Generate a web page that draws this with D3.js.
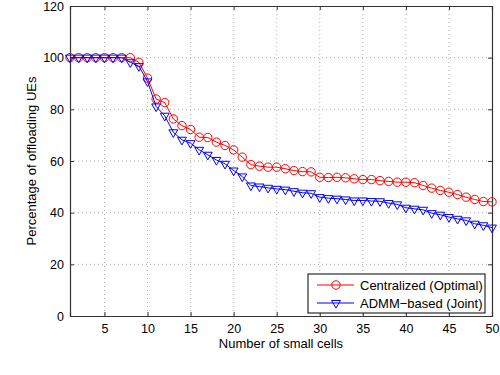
<!DOCTYPE html>
<html>
<head>
<meta charset="utf-8">
<script src="https://cdn.jsdelivr.net/npm/d3@7"></script>
<style>
  body { margin: 0; background: #fff; }
  text { font-family: "Liberation Sans", Arial, sans-serif; }
</style>
</head>
<body>
<div id="chart"></div>
<script>
// number of small cells 1..50
const cells = [1,2,3,4,5,6,7,8,9,10,11,12,13,14,15,16,17,18,19,20,21,22,23,24,25,
  26,27,28,29,30,31,32,33,34,35,36,37,38,39,40,41,42,43,44,45,46,47,48,49,50];

const centralized = [100,100,100,100,100,100,100,100,98.2,92.1,84.0,82.6,76.3,73.7,72.2,69.2,69.1,67.3,66.0,64.3,
  61.5,58.6,58.0,57.6,57.6,57.0,56.3,55.9,55.8,53.7,53.6,53.7,53.5,53.1,52.8,52.8,52.4,52.1,51.8,51.8,
  51.6,50.5,49.5,48.6,47.9,47.0,46.0,45.1,44.3,44.2];

const admm = [100,100,100,100,100,100,100,98.2,96.7,90.8,81.1,77.5,71.1,68.2,66.9,64.3,62.4,60.4,58.9,56.3,
  54.0,50.5,50.1,49.6,49.2,48.9,48.3,47.7,47.5,46.0,45.6,45.4,45.1,44.7,44.7,44.5,44.4,43.7,43.2,41.9,
  41.5,41.1,39.8,39.2,38.3,37.6,37.0,35.7,35.1,34.2];

const xTicks = [5,10,15,20,25,30,35,40,45,50];
const yTicks = [0,20,40,60,80,100,120];
const seriesNames = ["Centralized (Optimal)", "ADMM\u2212based (Joint)"];

const width = 500, height = 375;
const margin = {top: 6, right: 8, bottom: 59, left: 70};
const iw = width - margin.left - margin.right;
const ih = height - margin.top - margin.bottom;

const svg = d3.select("#chart").append("svg")
  .attr("width", width)
  .attr("height", height);

const g = svg.append("g").attr("transform", `translate(${margin.left},${margin.top})`);

const x = d3.scaleLinear().domain([1, 50]).range([0, iw]);
const y = d3.scaleLinear().domain([0, 120]).range([ih, 0]);

// dotted grid
g.append("g").selectAll("line")
  .data(xTicks.filter(d => d < 50))
  .join("line")
  .attr("x1", d => x(d)).attr("x2", d => x(d))
  .attr("y1", 0).attr("y2", ih)
  .attr("stroke", "#999").attr("stroke-width", 0.8)
  .attr("stroke-dasharray", "1,3");

g.append("g").selectAll("line")
  .data(yTicks.filter(d => d > 0 && d < 120))
  .join("line")
  .attr("x1", 0).attr("x2", iw)
  .attr("y1", d => y(d)).attr("y2", d => y(d))
  .attr("stroke", "#999").attr("stroke-width", 0.8)
  .attr("stroke-dasharray", "1,3");

// axes (ticks inward)
const axisColor = "#333";
const xAxis = g.append("g").attr("transform", `translate(0,${ih})`)
  .call(d3.axisBottom(x).tickValues(xTicks).tickSize(-4).tickPadding(8).tickFormat(d3.format("d")));
const xAxisTop = g.append("g")
  .call(d3.axisTop(x).tickValues(xTicks).tickSize(-4).tickFormat(""));
const yAxis = g.append("g")
  .call(d3.axisLeft(y).tickValues(yTicks).tickSize(-4).tickPadding(6).tickFormat(d3.format("d")));
const yAxisRight = g.append("g").attr("transform", `translate(${iw},0)`)
  .call(d3.axisRight(y).tickValues(yTicks).tickSize(-4).tickFormat(""));

[xAxis, xAxisTop, yAxis, yAxisRight].forEach(a => {
  a.select(".domain").attr("stroke", axisColor).attr("stroke-width", 1.2);
  a.selectAll(".tick line").attr("stroke", axisColor);
  a.selectAll("text").attr("fill", "#000").style("font-size", "12.5px");
});

// series
const line = d3.line().x((d, i) => x(cells[i])).y(d => y(d));
const tri = d3.symbol().type(d3.symbolTriangle).size(34);

g.append("path").datum(centralized)
  .attr("fill", "none").attr("stroke", "#ff0000").attr("stroke-width", 1)
  .attr("d", line);
g.append("g").selectAll("circle")
  .data(centralized)
  .join("circle")
  .attr("cx", (d, i) => x(cells[i]))
  .attr("cy", d => y(d))
  .attr("r", 4.2)
  .attr("fill", "none").attr("stroke", "#ff0000").attr("stroke-width", 1);

g.append("path").datum(admm)
  .attr("fill", "none").attr("stroke", "#0000ff").attr("stroke-width", 1)
  .attr("d", line);
g.append("g").selectAll("path")
  .data(admm)
  .join("path")
  .attr("d", tri)
  .attr("transform", (d, i) => `translate(${x(cells[i])},${y(d)}) rotate(180)`)
  .attr("fill", "none").attr("stroke", "#0000ff").attr("stroke-width", 1);

// legend
const lg = svg.append("g").attr("transform", "translate(308,274)");
lg.append("rect").attr("width", 177).attr("height", 39)
  .attr("fill", "#fff").attr("stroke", "#000").attr("stroke-width", 1);
const colors = ["#ff0000", "#0000ff"];
seriesNames.forEach((name, i) => {
  const ly = 11 + i * 18;
  lg.append("line").attr("x1", 9).attr("x2", 46).attr("y1", ly).attr("y2", ly)
    .attr("stroke", colors[i]).attr("stroke-width", 1);
  if (i === 0) {
    lg.append("circle").attr("cx", 28).attr("cy", ly).attr("r", 4.2)
      .attr("fill", "none").attr("stroke", colors[i]);
  } else {
    lg.append("path").attr("d", tri)
      .attr("transform", `translate(28,${ly}) rotate(180)`)
      .attr("fill", "none").attr("stroke", colors[i]);
  }
  lg.append("text").attr("x", 52).attr("y", ly).attr("dy", "0.35em")
    .style("font-size", "13px").text(name);
});

// axis labels
svg.append("text")
  .attr("x", margin.left + iw / 2).attr("y", 348)
  .attr("text-anchor", "middle").style("font-size", "13px")
  .text("Number of small cells");
svg.append("text")
  .attr("transform", `translate(36,${margin.top + ih / 2}) rotate(-90)`)
  .attr("text-anchor", "middle").style("font-size", "13px")
  .text("Percentage of offloading UEs");
</script>
</body>
</html>
